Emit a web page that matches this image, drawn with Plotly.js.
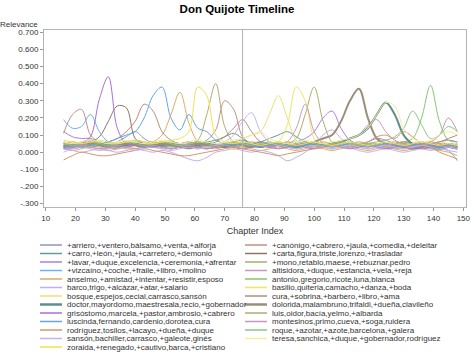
<!DOCTYPE html>
<html>
<head>
<meta charset="utf-8">
<script src="https://cdn.plot.ly/plotly-3.0.1.min.js"></script>
<style>html,body{margin:0;padding:0;background:#fff;}#chart{width:474px;height:355px;}</style>
</head>
<body>
<div id="chart"></div>
<script>
// Chapter index sample positions (shared by all series)
const chapterIndex = [16,19,22,25,28,31,34,37,40,43,46,49,52,55,58,
  61,64,67,70,73,76,79,82,85,88,91,94,97,100,103,
  106,109,112,115,118,121,124,127,130,133,136,139,142,145,148];

const seriesNames = [
  "+arriero,+ventero,bálsamo,+venta,+alforja",
  "+canónigo,+cabrero,+jaula,+comedia,+deleitar",
  "+carro,+león,+jaula,+carretero,+demonio",
  "+carta,figura,triste,lorenzo,+trasladar",
  "+lavar,+duque,excelencia,+ceremonia,+afrentar",
  "+mono,retablo,maese,+rebuznar,pedro",
  "+vizcaíno,+coche,+fraile,+libro,+molino",
  "altisidora,+duque,+estancia,+vela,+reja",
  "anselmo,+amistad,+intentar,+resistir,esposo",
  "antonio,gregorio,ricote,luna,blanca",
  "barco,trigo,+alcázar,+atar,+salario",
  "basilio,quiteria,camacho,+danza,+boda",
  "bosque,espejos,cecial,carrasco,sansón",
  "cura,+sobrina,+barbero,+libro,+ama",
  "doctor,mayordomo,maestresala,recio,+gobernador",
  "dolorida,malambruno,trifaldi,+dueña,clavileño",
  "grisóstomo,marcela,+pastor,ambrosio,+cabrero",
  "luis,oidor,bacía,yelmo,+albarda",
  "luscinda,fernando,cardenio,dorotea,cura",
  "montesinos,primo,cueva,+soga,ruidera",
  "rodríguez,tosilos,+lacayo,+dueña,+duque",
  "roque,+azotar,+azote,barcelona,+galera",
  "sansón,bachiller,carrasco,+galeote,ginés",
  "teresa,sanchica,+duque,+gobernador,rodríguez",
  "zoraida,+renegado,+cautivo,barca,+cristiano"
];

const seriesColors = [
  "#8e96bd","#c98e86","#5e9f98","#8c7563","#b07ce0","#a8ae6b","#6cb2f2",
  "#c998b2","#e0aa66","#88c46e","#c3aef2","#f3e55e","#f0e070","#b98a7a",
  "#5f8f8c","#9c8f7a","#a86fd8","#b2ad72","#5fa6ea","#c59ab8","#d09a6a",
  "#8cc48a","#c4b3f2","#f6eb9a","#f2e24e"
];
const seriesWidths = [1,1,1,1,1,1,1,1,1,1,1,1,1,1,2,2,1,1,1,1,1,1,1,1,1];

const arriero = [0.06,0.05,0.06,0.07,0.05,0.04,0.06,0.09,0.12,0.08,0.05,0.04,0.03,0.04,0.05,
  0.06,0.05,0.04,0.05,0.06,0.07,0.05,0.04,0.03,0.05,0.04,0.03,0.04,0.05,0.04,
  0.03,0.04,0.05,0.04,0.03,0.05,0.04,0.03,0.04,0.05,0.04,0.03,0.04,0.05,0.04];
const canonigo = [0.11,0.22,0.25,0.10,0.06,0.05,0.04,0.03,0.04,0.05,0.06,0.05,0.04,0.05,0.06,
  0.05,0.07,0.13,0.30,0.25,0.09,0.05,0.04,0.03,0.04,0.03,0.02,0.03,0.04,0.03,
  0.02,0.03,0.04,0.03,0.02,0.03,0.04,0.03,0.02,0.03,0.04,0.03,0.04,0.05,0.04];
const carro = [0.04,0.05,0.04,0.03,0.04,0.05,0.04,0.05,0.06,0.05,0.04,0.05,0.06,0.05,0.04,
  0.05,0.06,0.07,0.09,0.11,0.08,0.05,0.06,0.08,0.10,0.12,0.09,0.06,0.05,0.04,
  0.05,0.04,0.03,0.04,0.05,0.04,0.03,0.04,0.05,0.04,0.05,0.04,0.03,0.04,0.03];
const carta = [0.03,0.04,0.05,0.06,0.09,0.18,0.27,0.26,0.08,0.05,0.04,0.03,0.04,0.03,0.02,
  0.03,0.04,0.03,0.04,0.05,0.04,0.05,0.06,0.05,0.04,0.03,0.04,0.05,0.04,0.03,
  0.04,0.03,0.04,0.05,0.04,0.03,0.04,0.05,0.06,0.05,0.04,0.03,0.04,0.05,0.04];
const lavar = [0.12,0.09,0.08,0.08,0.05,0.03,0.02,0.03,0.04,0.05,0.04,0.03,0.02,0.03,0.04,
  0.03,0.02,0.03,0.04,0.03,0.04,0.05,0.04,0.03,0.04,0.05,0.06,0.08,0.12,0.20,
  0.24,0.14,0.07,0.05,0.06,0.08,0.07,0.05,0.04,0.05,0.06,0.05,0.06,0.07,0.06];
const mono = [0.04,0.03,0.04,0.05,0.04,0.03,0.04,0.05,0.04,0.03,0.04,0.05,0.04,0.03,0.04,
  0.05,0.04,0.05,0.04,0.03,0.04,0.05,0.04,0.05,0.04,0.05,0.08,0.22,0.38,0.18,
  0.06,0.04,0.03,0.04,0.05,0.04,0.03,0.04,0.05,0.04,0.03,0.04,0.05,0.04,0.03];
const vizcaino = [0.19,0.14,0.15,0.22,0.12,0.06,0.05,0.04,0.05,0.04,0.03,0.04,0.03,0.04,0.03,
  0.04,0.03,0.04,0.03,0.04,0.05,0.04,0.03,0.04,0.05,0.04,0.03,0.04,0.03,0.04,
  0.05,0.04,0.03,0.04,0.05,0.04,0.03,0.02,0.03,0.04,0.03,0.02,0.03,0.01,-0.05];
const altisidora = [0.03,0.02,0.03,0.04,0.03,0.02,0.03,0.04,0.05,0.04,0.03,0.02,0.03,0.04,0.03,
  0.02,0.03,0.04,0.03,0.02,0.03,0.04,0.03,0.04,0.05,0.04,0.03,0.04,0.05,0.04,
  0.05,0.06,0.08,0.10,0.16,0.19,0.12,0.07,0.05,0.04,0.05,0.06,0.10,0.20,0.12];
const anselmo = [0.02,0.01,0.02,0.03,0.02,0.01,0.02,0.03,0.02,0.04,0.06,0.10,0.22,0.35,0.17,
  0.06,0.03,0.02,0.03,0.02,0.03,0.02,0.01,0.02,0.03,0.02,0.01,0.02,0.03,0.02,
  0.01,0.02,0.03,0.02,0.01,0.02,0.03,0.02,0.01,0.02,0.03,0.02,0.01,0.00,-0.02];
const antonio = [0.04,0.05,0.04,0.05,0.06,0.05,0.04,0.05,0.04,0.05,0.06,0.05,0.04,0.05,0.04,
  0.05,0.06,0.05,0.04,0.05,0.06,0.05,0.04,0.05,0.06,0.05,0.04,0.05,0.06,0.05,
  0.04,0.05,0.06,0.05,0.04,0.05,0.04,0.05,0.06,0.08,0.20,0.39,0.18,0.07,0.06];
const barco = [0.02,0.01,0.00,0.01,0.02,0.01,0.00,0.01,0.02,0.01,0.00,0.01,0.00,-0.02,-0.04,
  -0.05,-0.03,0.00,0.01,0.02,0.01,0.00,0.01,0.00,-0.02,-0.05,-0.03,0.00,0.04,0.10,
  0.13,0.08,0.03,0.01,0.00,0.01,0.02,0.01,0.00,0.01,0.02,0.01,0.02,0.01,0.00];
const basilio = [0.03,0.04,0.03,0.02,0.03,0.04,0.03,0.02,0.03,0.04,0.03,0.02,0.03,0.04,0.03,
  0.02,0.03,0.04,0.03,0.02,0.03,0.04,0.03,0.04,0.06,0.16,0.38,0.30,0.08,0.03,
  0.02,0.03,0.04,0.03,0.02,0.03,0.04,0.03,0.02,0.03,0.04,0.03,0.02,0.03,0.04];
const bosque = [0.05,0.04,0.05,0.06,0.05,0.04,0.05,0.06,0.05,0.04,0.05,0.06,0.05,0.04,0.05,
  0.06,0.05,0.04,0.05,0.06,0.08,0.10,0.12,0.22,0.33,0.20,0.07,0.05,0.04,0.05,
  0.06,0.05,0.04,0.05,0.06,0.05,0.04,0.05,0.06,0.05,0.04,0.05,0.06,0.05,0.04];
const cura = [0.05,0.04,0.05,0.06,0.05,0.06,0.08,0.12,0.18,0.28,0.24,0.12,0.07,0.05,0.06,
  0.05,0.04,0.06,0.09,0.14,0.19,0.12,0.06,0.05,0.04,0.03,0.04,0.05,0.04,0.03,
  0.04,0.05,0.04,0.03,0.04,0.05,0.04,0.05,0.06,0.05,0.04,0.05,0.06,0.08,0.10];
const doctor = [0.03,0.04,0.03,0.04,0.05,0.04,0.03,0.04,0.05,0.04,0.03,0.04,0.05,0.04,0.03,
  0.04,0.05,0.04,0.03,0.04,0.05,0.04,0.03,0.04,0.05,0.04,0.03,0.04,0.05,0.04,
  0.05,0.06,0.08,0.10,0.14,0.22,0.29,0.22,0.10,0.05,0.04,0.03,0.02,0.03,0.02];
const dolorida = [0.04,0.03,0.04,0.05,0.04,0.03,0.04,0.05,0.04,0.03,0.04,0.05,0.04,0.03,0.04,
  0.05,0.04,0.03,0.04,0.05,0.04,0.03,0.04,0.05,0.04,0.03,0.04,0.05,0.06,0.08,
  0.10,0.18,0.30,0.37,0.20,0.08,0.05,0.04,0.03,0.02,0.03,0.04,0.03,0.04,0.03];
const grisostomo = [0.02,0.03,0.05,0.09,0.31,0.44,0.14,0.05,0.04,0.03,0.04,0.03,0.02,0.03,0.04,
  0.03,0.02,0.03,0.04,0.03,0.02,0.03,0.04,0.03,0.02,0.03,0.04,0.03,0.02,0.03,
  0.04,0.03,0.02,0.03,0.04,0.03,0.02,0.03,0.04,0.03,0.02,0.03,0.04,0.03,0.02];
const luis = [0.05,0.06,0.05,0.04,0.05,0.06,0.05,0.06,0.07,0.06,0.05,0.06,0.05,0.04,0.05,
  0.07,0.22,0.40,0.15,0.06,0.05,0.06,0.05,0.04,0.05,0.06,0.05,0.04,0.05,0.06,
  0.05,0.04,0.05,0.06,0.05,0.04,0.05,0.06,0.05,0.04,0.05,0.06,0.05,0.04,0.05];
const luscinda = [0.03,0.04,0.03,0.04,0.05,0.06,0.08,0.10,0.12,0.20,0.33,0.38,0.20,0.13,0.22,
  0.14,0.12,0.07,0.05,0.04,0.05,0.04,0.03,0.04,0.05,0.04,0.03,0.04,0.05,0.04,
  0.03,0.04,0.05,0.04,0.03,0.04,0.05,0.04,0.03,0.04,0.05,0.04,0.03,0.04,0.03];
const montesinos = [0.02,0.03,0.04,0.03,0.02,0.03,0.04,0.03,0.02,0.03,0.04,0.03,0.02,0.03,0.04,
  0.03,0.02,0.03,0.04,0.03,0.04,0.05,0.04,0.03,0.04,0.06,0.14,0.28,0.12,0.05,
  0.04,0.03,0.04,0.05,0.04,0.03,0.04,0.05,0.04,0.03,0.04,0.05,0.04,0.03,0.04];
const rodriguez = [-0.045,-0.02,0.00,-0.01,-0.02,-0.02,-0.01,0.00,0.01,0.02,0.01,0.00,-0.01,-0.02,-0.02,
  -0.01,0.00,0.01,0.02,0.03,0.02,0.01,0.00,-0.01,-0.02,-0.01,0.00,0.01,0.02,0.03,
  0.04,0.06,0.05,0.04,0.06,0.09,0.10,0.08,0.12,0.09,0.05,0.03,0.00,-0.02,-0.04];
const roque = [0.05,0.04,0.05,0.06,0.05,0.04,0.05,0.06,0.05,0.04,0.05,0.06,0.05,0.04,0.05,
  0.06,0.05,0.04,0.05,0.06,0.05,0.04,0.05,0.06,0.05,0.04,0.05,0.06,0.05,0.04,
  0.05,0.06,0.05,0.04,0.05,0.06,0.07,0.09,0.14,0.24,0.16,0.08,0.10,0.15,0.12];
const sanson = [0.00,0.02,0.03,0.02,0.01,0.02,0.03,0.02,0.01,0.02,0.03,0.02,0.01,0.02,0.03,
  0.02,0.03,0.04,0.06,0.10,0.18,0.23,0.12,0.06,0.04,0.03,0.02,0.03,0.04,0.03,
  0.02,0.03,0.04,0.03,0.02,0.03,0.04,0.03,0.02,0.03,0.04,0.03,0.02,0.03,0.02];
const teresa = [0.06,0.05,0.06,0.07,0.06,0.05,0.06,0.07,0.06,0.05,0.06,0.07,0.06,0.05,0.06,
  0.07,0.06,0.05,0.06,0.07,0.08,0.10,0.12,0.08,0.06,0.05,0.06,0.07,0.06,0.05,
  0.06,0.07,0.08,0.10,0.14,0.22,0.29,0.27,0.14,0.08,0.06,0.07,0.10,0.12,0.10];
const zoraida = [0.07,0.06,0.05,0.06,0.07,0.06,0.05,0.06,0.07,0.06,0.05,0.06,0.07,0.08,0.12,
  0.38,0.33,0.10,0.06,0.05,0.06,0.05,0.04,0.05,0.06,0.05,0.04,0.05,0.06,0.05,
  0.04,0.05,0.06,0.05,0.04,0.05,0.06,0.05,0.04,0.05,0.06,0.05,0.04,0.05,0.04];

const seriesValues = [arriero,canonigo,carro,carta,lavar,mono,vizcaino,altisidora,anselmo,
  antonio,barco,basilio,bosque,cura,doctor,dolorida,grisostomo,luis,luscinda,montesinos,
  rodriguez,roque,sanson,teresa,zoraida];

const yTickVals = [-0.3,-0.2,-0.1,0,0.1,0.2,0.3,0.4,0.5,0.6,0.7];
const yTickText = ["-.300","-.200","-.100","0.000","0.100","0.200","0.300","0.400","0.500","0.600","0.700"];
const xTickVals = [10,20,30,40,50,60,70,80,90,100,110,120,130,140,150];
const partBoundary = 76;

const FONT = "Liberation Sans, Arial, sans-serif";
const traces = seriesValues.map((v, i) => ({
  type: "scatter", mode: "lines", x: chapterIndex, y: v, name: seriesNames[i],
  line: {color: seriesColors[i], width: seriesWidths[i], shape: "spline", smoothing: 1},
  showlegend: false, hoverinfo: "skip"
}));

// layout geometry (pixels)
const W = 474, H = 355, mL = 44, mR = 8, mT = 30, mB = 148;
const pw = W - mL - mR, ph = H - mT - mB;
const px2x = p => (p - mL) / pw;
const py2y = p => (H - mB - p) / ph;

const annotations = [
  {text: "Relevance", xref: "paper", yref: "paper", x: px2x(40), y: py2y(24), xanchor: "right", yanchor: "middle",
   showarrow: false, font: {family: FONT, size: 8, color: "#333"}}
];
const shapes = [
  {type: "line", xref: "x", yref: "paper", x0: partBoundary, x1: partBoundary, y0: 0, y1: 1,
   line: {color: "#b4b4b4", width: 1}}
];
seriesNames.forEach((n, k) => {
  const col = k % 2, row = Math.floor(k / 2);
  const yy = py2y(245 + row * 8.5);
  const lx0 = col === 0 ? 40 : 245, lx1 = lx0 + 22, tx = lx1 + 3;
  shapes.push({type: "line", xref: "paper", yref: "paper", x0: px2x(lx0), x1: px2x(lx1), y0: yy, y1: yy,
    line: {color: seriesColors[k], width: seriesWidths[k] + 0.5}});
  annotations.push({text: n, xref: "paper", yref: "paper", x: px2x(tx), y: yy, xanchor: "left", yanchor: "middle",
    showarrow: false, font: {family: FONT, size: 8, color: "#333"}});
});

const layout = {
  width: W, height: H,
  margin: {l: mL, r: mR, t: mT, b: mB, pad: 0},
  paper_bgcolor: "#fff", plot_bgcolor: "#fff",
  font: {family: FONT, size: 8, color: "#333"},
  title: {text: "<b>Don Quijote Timeline</b>", font: {family: FONT, size: 11.5, color: "#000"},
    xref: "container", x: 0.5, xanchor: "center", yref: "container", y: 1 - 8.5 / H, yanchor: "middle"},
  xaxis: {range: [9.43, 150.9], tickvals: xTickVals, ticks: "outside", ticklen: 3, tickcolor: "#999",
    showgrid: false, zeroline: false, showline: true, linecolor: "#b4b4b4", mirror: true,
    tickfont: {family: FONT, size: 8, color: "#333"},
    title: {text: "Chapter Index", font: {family: FONT, size: 9, color: "#333"}, standoff: 6}},
  yaxis: {range: [-0.32, 0.7134], tickvals: yTickVals, ticktext: yTickText, ticks: "outside", ticklen: 3,
    tickcolor: "#999", showgrid: false, zeroline: false, showline: true, linecolor: "#b4b4b4", mirror: true,
    tickfont: {family: FONT, size: 8, color: "#333"}},
  showlegend: false,
  annotations: annotations, shapes: shapes
};

Plotly.newPlot("chart", traces, layout, {staticPlot: true, displayModeBar: false});
</script>
</body>
</html>
